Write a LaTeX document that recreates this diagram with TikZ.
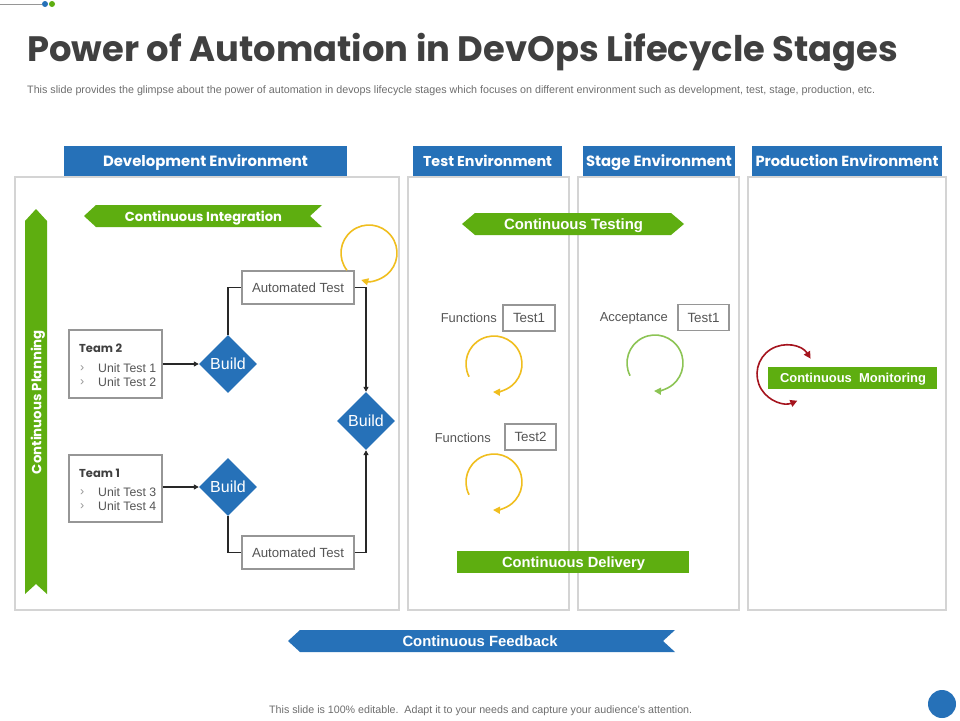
\documentclass[tikz,border=0pt]{standalone}
\usepackage{fontspec}
\setmainfont{Liberation Sans}
\newfontfamily\popf{Poppins}
\usetikzlibrary{shapes.geometric,arrows.meta}
\definecolor{hblue}{RGB}{38,113,184}
\definecolor{cgreen}{RGB}{94,174,16}
\definecolor{pgrey}{RGB}{212,212,212}
\definecolor{boxgrey}{RGB}{150,150,150}
\definecolor{tgrey}{RGB}{64,64,64}
\definecolor{tgreytwo}{RGB}{85,85,85}
\definecolor{subgrey}{RGB}{110,110,110}
\definecolor{lineblk}{RGB}{40,40,40}
\definecolor{cyel}{RGB}{240,190,30}
\definecolor{lgreen}{RGB}{140,196,84}
\definecolor{dred}{RGB}{165,20,30}
\newcommand\fw[2]{\resizebox{#1pt}{!}{#2}}
\begin{document}
\begin{tikzpicture}[x=1pt,y=-1pt,
  panel/.style={draw=pgrey, line width=1.5pt, inner sep=0},
  hdr/.style={fill=hblue, text=white, inner sep=0, text depth=0pt, font=\popf\bfseries\fontsize{15}{18}\selectfont},
  bantxt/.style={text=white, inner sep=0, text depth=0pt, font=\bfseries\fontsize{14}{16}\selectfont},
  gbantxt/.style={text=white, inner sep=0, text depth=0pt, font=\popf\bfseries\fontsize{13}{16}\selectfont},
  wbox/.style={draw=boxgrey, line width=1.2pt, fill=white, inner sep=0},
  bodytxt/.style={text=tgreytwo, inner sep=0, text depth=0pt, font=\fontsize{12.5}{15}\selectfont},
  teamlbl/.style={text=tgrey, inner sep=0, text depth=0pt, font=\popf\bfseries\fontsize{11.5}{14}\selectfont},
  bld/.style={diamond, fill=hblue, text=white, inner sep=0, minimum width=58pt, minimum height=58pt, text depth=0pt, font=\fontsize{16}{19}\selectfont},
  conn/.style={draw=lineblk, line width=1.3pt},
  arrtip/.style={-{Triangle[length=5pt,width=5pt]}},
  cyc/.style={line width=1.6pt, -{Triangle[length=7pt,width=7pt]}},
]
\useasboundingbox[fill=white] (0,0) rectangle (960,720);

% top-left ornament
\draw[boxgrey, line width=0.8pt] (0,4) -- (42,4);
\fill[hblue] (45,4) circle (3);
\fill[cgreen] (52,4) circle (3);

% title and subtitle
\node[anchor=base west, inner sep=0, text=tgrey] (title) at (27,61)
  {\fw{871}{\popf\bfseries\fontsize{30}{36}\selectfont Power of Automation in DevOps Lifecycle Stages}};
\node[anchor=base west, inner sep=0, text=subgrey] (sub) at (27,93)
  {\resizebox{848pt}{7.8pt}{\fontsize{10}{12}\selectfont This slide provides the glimpse about the power of automation in devops lifecycle stages which focuses on different environment such as development, test, stage, production, etc.}};

% panels
\node[panel, minimum width=384pt, minimum height=433pt] (pdev) at (207,393.5) {};
\node[panel, minimum width=161pt, minimum height=433pt] (ptest) at (488.5,393.5) {};
\node[panel, minimum width=161pt, minimum height=433pt] (pstage) at (658.5,393.5) {};
\node[panel, minimum width=198pt, minimum height=433pt] (pprod) at (847,393.5) {};

% headers
\node[hdr, minimum width=283pt, minimum height=30pt] (hdev) at (205.5,161) {\fw{205}{Development Environment}};
\node[hdr, minimum width=149pt, minimum height=30pt] (htest) at (487.5,161) {\fw{129}{Test Environment}};
\node[hdr, minimum width=152pt, minimum height=30pt] (hstage) at (659,161) {\fw{146}{Stage Environment}};
\node[hdr, minimum width=190pt, minimum height=30pt] (hprod) at (847,161) {\fw{183}{Production Environment}};

% Continuous Integration banner
\fill[cgreen] (84,216) -- (96,205) -- (322,205) -- (310,216) -- (322,227) -- (96,227) -- cycle;
\node[gbantxt] (ci) at (203.5,216) {\fw{157}{Continuous Integration}};

% Continuous Planning banner
\fill[cgreen] (36,209) -- (47,221) -- (47,594) -- (36,584) -- (25,594) -- (25,221) -- cycle;
\node[gbantxt, rotate=90] (cp) at (36,402) {\fw{144}{Continuous Planning}};

% Continuous Testing banner
\fill[cgreen] (462,224) -- (475,213) -- (671,213) -- (684,224) -- (671,235) -- (475,235) -- cycle;
\node[bantxt] (ct) at (573.5,224) {\fw{139}{Continuous Testing}};

% Continuous Delivery
\node[fill=cgreen, minimum width=232pt, minimum height=22pt, inner sep=0] (cdbar) at (573,562) {};
\node[bantxt] (cd) at (573.5,562) {\fw{143}{Continuous Delivery}};

% Continuous Monitoring
\node[fill=cgreen, minimum width=169pt, minimum height=22pt, inner sep=0] (cmbar) at (852.5,378) {};
\node[bantxt] (cm) at (853,378) {\fw{146}{Continuous\ \ Monitoring}};

% Continuous Feedback
\fill[hblue] (288,641) -- (300,630) -- (675,630) -- (663,641) -- (675,652) -- (300,652) -- cycle;
\node[bantxt] (cf) at (480,641) {\fw{155}{Continuous Feedback}};

% Team boxes
\node[wbox, minimum width=93pt, minimum height=68pt] (team2) at (115.5,364) {};
\node[teamlbl, anchor=west] (t2l) at (79,348) {Team 2};
\node[bodytxt, anchor=west, text=boxgrey] (t2a) at (80,368.5) {›};
\node[bodytxt, anchor=west] (t2b) at (98,368.5) {\fw{58}{Unit Test 1}};
\node[bodytxt, anchor=west, text=boxgrey] (t2c) at (80,382.5) {›};
\node[bodytxt, anchor=west] (t2d) at (98,382.5) {\fw{58}{Unit Test 2}};

\node[wbox, minimum width=93pt, minimum height=67pt] (team1) at (115.5,488.5) {};
\node[teamlbl, anchor=west] (t1l) at (79,473.5) {Team 1};
\node[bodytxt, anchor=west, text=boxgrey] (t1a) at (80,492.5) {›};
\node[bodytxt, anchor=west] (t1b) at (98,492.5) {\fw{58}{Unit Test 3}};
\node[bodytxt, anchor=west, text=boxgrey] (t1c) at (80,506.5) {›};
\node[bodytxt, anchor=west] (t1d) at (98,506.5) {\fw{58}{Unit Test 4}};

% Build diamonds
\node[bld] (b1) at (228,364) {Build};
\node[bld] (b2) at (366,421) {Build};
\node[bld] (b3) at (228,487) {Build};

% Automated test boxes
\node[wbox, minimum width=112pt, minimum height=33pt] (at1) at (298,287.5) {};
\node[bodytxt] (at1t) at (298,287.5) {\fw{92}{Automated Test}};
\node[wbox, minimum width=112pt, minimum height=33pt] (at2) at (298,552.5) {};
\node[bodytxt] (at2t) at (298,552.5) {\fw{92}{Automated Test}};

% connectors
\draw[conn, arrtip] (team2.east |- b1.west) -- (b1.west);
\draw[conn, arrtip] (team1.east |- b3.west) -- (b3.west);
\draw[conn] (b1.north) |- (at1.west);
\draw[conn] (b3.south) |- (at2.west);
\draw[conn, arrtip] (at1.east) -| (b2.north);
\draw[conn, arrtip] (at2.east) -| (b2.south);

% cycle arrow near automated test
\draw[cyc, draw=cyel] (369,253) ++(142:28) arc[start angle=142, end angle=466, radius=28];

% Test environment items
\node[bodytxt, anchor=east] (fn1) at (497,317.5) {\fw{56}{Functions}};
\node[wbox, minimum width=52pt, minimum height=26pt] (tt1) at (529,318) {};
\node[bodytxt] (tt1t) at (529,317.5) {\fw{32}{Test1}};
\draw[cyc, draw=cyel] (494,364) ++(153:28) arc[start angle=153, end angle=452, radius=28];

\node[bodytxt, anchor=east] (fn2) at (491,437.5) {\fw{56}{Functions}};
\node[wbox, minimum width=51pt, minimum height=26pt] (tt2) at (530.5,437) {};
\node[bodytxt] (tt2t) at (530.5,437) {\fw{32}{Test2}};
\draw[cyc, draw=cyel] (494,482) ++(153:28) arc[start angle=153, end angle=452, radius=28];

% Stage environment items
\node[bodytxt, anchor=east] (acc) at (668,317.5) {\fw{68}{Acceptance}};
\node[wbox, minimum width=51pt, minimum height=26pt] (st1) at (703.5,317.5) {};
\node[bodytxt] (st1t) at (703.5,317.5) {\fw{32}{Test1}};
\draw[cyc, draw=lgreen] (655,363) ++(153:28) arc[start angle=153, end angle=452, radius=28];

% Production monitoring arc
\draw[line width=1.6pt, draw=dred, {Triangle[length=7pt,width=7pt]}-{Triangle[length=7pt,width=7pt]}]
  (786,374) ++(-32:29) arc[start angle=-32, end angle=-293, radius=29];

% footer
\node[anchor=base west, inner sep=0, text=subgrey] (foot) at (269,713)
  {\resizebox{423pt}{7.8pt}{\fontsize{10}{12}\selectfont This slide is 100\% editable.\ \ Adapt it to your needs and capture your audience's attention.}};
\node[circle, fill=hblue, minimum size=28pt, inner sep=0] (dot) at (942,704) {};
\end{tikzpicture}
\end{document}
